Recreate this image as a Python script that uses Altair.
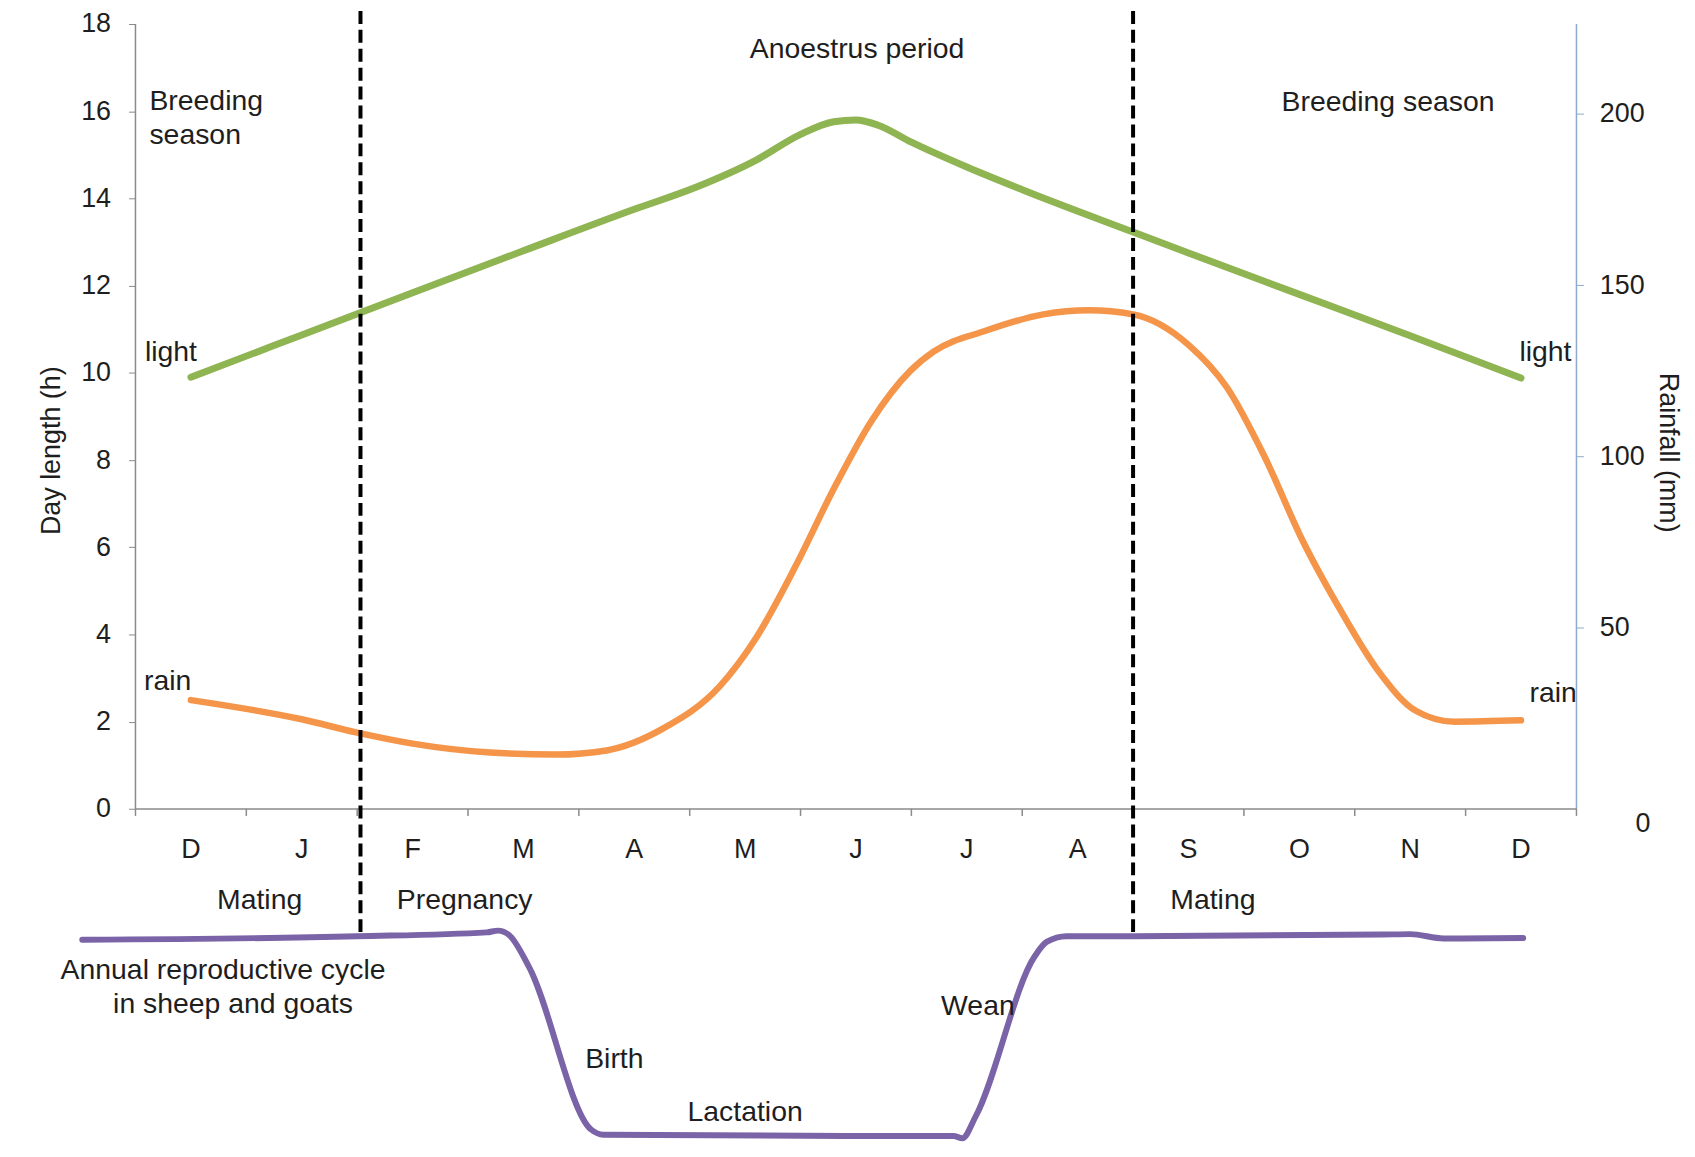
import altair as alt
import pandas as pd

# ---------------- data ----------------
months = ["D", "J", "F", "M", "A", "M", "J", "J", "A", "S", "O", "N", "D"]
month_pos = list(range(13))
tick_pos = [i - 0.5 for i in range(14)]
left_ticks = list(range(0, 19, 2))
right_ticks = [0, 50, 100, 150, 200]

# day length (h), position = month index
light_x = [0, 1, 2, 3, 4, 4.55, 5.1, 5.5, 5.8, 6.0, 6.2, 6.5, 7.0, 7.5, 8.5, 9, 10, 11, 12]
light_h = [9.9, 10.87, 11.84, 12.8, 13.75, 14.25, 14.88, 15.47, 15.76, 15.8, 15.68, 15.29,
           14.72, 14.2, 13.23, 12.75, 11.8, 10.85, 9.88]

# rainfall (mm)
rain_x = [0, 1, 1.5, 2, 2.7, 3.3, 3.75, 4.25, 4.77, 5.1, 5.46, 5.8, 6.14, 6.49, 6.7, 7.17,
          7.69, 8.1, 8.5, 9.0, 9.35, 9.69, 10.03, 10.37, 10.71, 11.05, 11.4, 12]
rain_mm = [28.9, 23.3, 19.4, 16.2, 13.6, 13.0, 14.2, 20.4, 32.9, 47.1, 68.3, 90.6, 110.4,
           125.0, 130.6, 136.7, 141.5, 142.7, 141.5, 132.6, 120.0, 99.7, 75.4, 55.2, 37.5,
           25.8, 22.6, 23.0]

# annual reproductive cycle (schematic level, drawn under the axis)
cycle_x = [-0.98, 1.5, 2.67, 2.77, 2.87, 3.05, 3.61, 3.72, 5.9, 6.88, 6.96, 7.08, 7.61,
           7.72, 7.9, 8.5, 10.75, 11.0, 11.3, 12.02]
cycle_y = [-3.0, -2.92, -2.83, -2.79, -2.89, -3.62, -7.35, -7.47, -7.5, -7.5, -7.55,
           -7.05, -3.39, -3.05, -2.92, -2.92, -2.88, -2.87, -2.97, -2.96]

# season boundaries (dashed)
divide_x = [1.53, 8.5]
divide_top = 18.3
divide_bottom = -2.92

# annotations
left_texts = ["Breeding", "season"]
left_tx = [-0.374, -0.374]
left_ty = [16.23, 15.45]

center_texts = ["Anoestrus period", "Breeding season", "light", "light", "rain", "rain",
                "Mating", "Pregnancy", "Mating", "Annual reproductive cycle",
                "in sheep and goats", "Birth", "Lactation", "Wean"]
center_tx = [6.01, 10.8, -0.18, 12.22, -0.21, 12.29, 0.62, 2.47, 9.22, 0.29, 0.38, 3.82, 5.0, 7.1]
center_ty = [17.43, 16.2, 10.48, 10.48, 2.94, 2.66, -2.08, -2.08, -2.08, -3.69, -4.48, -5.74,
             -6.95, -4.53]

# ---------------- layout / style ----------------
FONT = "Liberation Sans"
FS = 28.5
FS_TICK = 27
TXT = "#1e1e1e"
AXIS_GRAY = "#8a8a8a"
AXIS_BLUE = "#8EAACC"
W, H = 1447, 1126
PX_PER_H = 43.79          # pixels per hour on the left axis
PX_PER_MM = 3.44          # pixels per mm on the right axis
RAIN_ZERO_PX = 778.3      # right-axis zero, pixels below the plot top
H_MAX = 18.0
H_MIN = H_MAX - H / PX_PER_H
R_MAX = RAIN_ZERO_PX / PX_PER_MM
R_MIN = -(H - RAIN_ZERO_PX) / PX_PER_MM
LABEL_Y = -0.94       # month labels (h units, below the axis)
TICK_LEN = -0.16

xscale = alt.Scale(domain=[-0.5, 12.5], nice=False, zero=False)
yscale = alt.Scale(domain=[H_MIN, H_MAX], nice=False, zero=False)
rscale = alt.Scale(domain=[R_MIN, R_MAX], nice=False, zero=False)

yaxis = alt.Axis(orient="left", values=left_ticks, domain=False, tickColor=AXIS_GRAY,
                 tickSize=7, labelFont=FONT, labelFontSize=FS_TICK, labelColor=TXT,
                 labelPadding=18, grid=False, title="Day length (h)", titleFont=FONT,
                 titleFontSize=FS_TICK, titleFontWeight="normal", titleColor=TXT,
                 titleX=-84.5, titleY=428, titleAngle=270, titleAlign="center",
                 titleBaseline="middle")
raxis = alt.Axis(orient="right", values=right_ticks[1:], domain=False, tickColor=AXIS_BLUE,
                 tickSize=7, labelFont=FONT, labelFontSize=FS_TICK, labelColor=TXT,
                 labelPadding=16, grid=False, title="Rainfall (mm)", titleFont=FONT,
                 titleFontSize=FS_TICK, titleFontWeight="normal", titleColor=TXT, titleX=91,
                 titleY=430, titleAngle=90, titleAlign="center", titleBaseline="middle")

X = alt.X("x:Q", scale=xscale, axis=None)

def Y(ax=None):
    return alt.Y("y:Q", scale=yscale, axis=ax)

# ---------------- layers ----------------
y_lines = alt.Chart(pd.DataFrame({
    "x": [-0.5, 12.5], "y": [0, 0], "y2": [H_MAX, H_MAX], "c": [AXIS_GRAY, AXIS_BLUE]
})).mark_rule(strokeWidth=1.5).encode(
    x=X, y=Y(), y2="y2:Q", color=alt.Color("c:N", scale=None))

x_line = alt.Chart(pd.DataFrame({"x": [-0.5], "x2": [12.5], "y": [0]})).mark_rule(
    strokeWidth=1.5, color=AXIS_GRAY).encode(x=X, x2="x2:Q", y=Y())

x_ticks = alt.Chart(pd.DataFrame({
    "x": tick_pos, "y": [0] * len(tick_pos), "y2": [TICK_LEN] * len(tick_pos)
})).mark_rule(strokeWidth=1.5, color=AXIS_GRAY).encode(x=X, y=Y(), y2="y2:Q")

x_labels = alt.Chart(pd.DataFrame({
    "x": month_pos, "y": [LABEL_Y] * len(month_pos), "t": months
})).mark_text(font=FONT, fontSize=FS_TICK, color=TXT, align="center", baseline="middle"
).encode(x=X, y=Y(), text="t:N")

green = alt.Chart(pd.DataFrame({"x": light_x, "y": light_h})).mark_line(
    color="#8FB452", strokeWidth=7, interpolate="monotone", strokeCap="round"
).encode(x=X, y=Y(yaxis))

purple = alt.Chart(pd.DataFrame({"x": cycle_x, "y": cycle_y})).mark_line(
    color="#7A63A6", strokeWidth=6, interpolate="monotone", strokeCap="round",
    strokeJoin="round"
).encode(x=X, y=Y())

t_left = alt.Chart(pd.DataFrame({"x": left_tx, "y": left_ty, "t": left_texts})).mark_text(
    font=FONT, fontSize=FS, color=TXT, align="left", baseline="middle"
).encode(x=X, y=Y(), text="t:N")

t_center = alt.Chart(pd.DataFrame({"x": center_tx, "y": center_ty, "t": center_texts})).mark_text(
    font=FONT, fontSize=FS, color=TXT, align="center", baseline="middle"
).encode(x=X, y=Y(), text="t:N")

rain = alt.Chart(pd.DataFrame({"x": rain_x, "y": rain_mm})).mark_line(
    color="#F4954A", strokeWidth=6.5, interpolate="monotone", strokeCap="round"
).encode(x=X, y=alt.Y("y:Q", scale=rscale, axis=raxis))

# the rainfall axis' zero label sits a little below and right of the corner
rain_zero = alt.Chart(pd.DataFrame({"x": [13.1], "y": [-7.2], "t": [str(right_ticks[0])]})).mark_text(
    font=FONT, fontSize=FS_TICK, color=TXT, align="center", baseline="middle"
).encode(x=X, y=alt.Y("y:Q", scale=rscale, axis=None), text="t:N")

dashed = alt.Chart(pd.DataFrame({
    "x": divide_x, "y": [divide_top] * 2, "y2": [divide_bottom] * 2
})).mark_rule(color="#000000", strokeWidth=4, strokeDash=[13, 6]).encode(
    x=X, y=Y(), y2="y2:Q")

chart = alt.layer(
    y_lines, x_line, x_ticks, x_labels, green, purple, t_left, t_center, rain, rain_zero, dashed
).resolve_scale(y="independent").properties(
    width=W, height=H,
    background="white",
    autosize=alt.AutoSizeParams(type="none"),
    padding={"left": 128, "top": 13.7, "right": 111, "bottom": 5},
).configure_view(stroke=None, strokeWidth=0)

chart.save("out.html", embed_options={"renderer": "svg", "actions": False})
